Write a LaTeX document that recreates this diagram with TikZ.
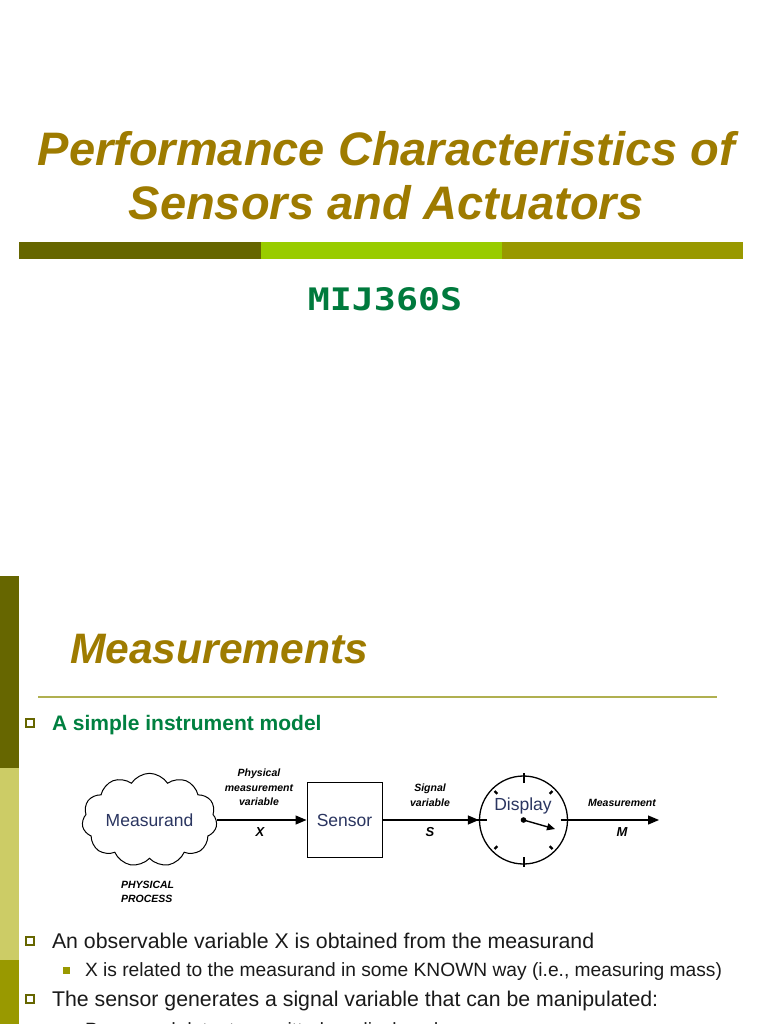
\documentclass[tikz,border=0pt]{standalone}
\usepackage{fontspec}
\setmainfont{Liberation Sans}
\newfontfamily\monob{DejaVu Sans Mono}
\usetikzlibrary{shapes.symbols,arrows.meta,calc}
\definecolor{ttl}{HTML}{9E7B00}
\definecolor{olA}{HTML}{666600}
\definecolor{olB}{HTML}{99CC00}
\definecolor{olC}{HTML}{999900}
\definecolor{olD}{HTML}{CCCC66}
\definecolor{rule}{HTML}{B0B050}
\definecolor{grn}{HTML}{007A3D}
\definecolor{grn2}{HTML}{008040}
\definecolor{body}{HTML}{1A1A1A}
\definecolor{navy}{HTML}{2A3560}
\tikzset{
  txt/.style={inner sep=0pt, outer sep=0pt},
  hbul/.style={draw=olA, line width=1.3pt, minimum size=8pt, inner sep=0pt},
  fbul/.style={fill=olC, minimum size=7pt, inner sep=0pt},
  conn/.style={line width=1.3pt, -{Triangle[length=11pt,width=9pt]}},
  smalllab/.style={txt, align=center, text=black, font=\bfseries\itshape\fontsize{10.5}{14.5}\selectfont},
  varlab/.style={txt, text=black, font=\bfseries\itshape\fontsize{13}{13}\selectfont},
  biglab/.style={text=navy, font=\fontsize{17.5}{17.5}\selectfont}
}
\begin{document}
\begin{tikzpicture}[x=1pt,y=-1pt]
\useasboundingbox (0,0) rectangle (768,1024);
\fill[white] (0,0) rectangle (768,1024);
\begin{scope}
\clip (0,0) rectangle (768,1024);
% ---------- top slide ----------
\node[txt, anchor=base, text=ttl, font=\bfseries\itshape\fontsize{47}{54}\selectfont] (t1) at (386.5,166) {Performance Characteristics of};
\node[txt, anchor=base, text=ttl, font=\bfseries\itshape\fontsize{47}{54}\selectfont] (t2) at (386,220) {Sensors and Actuators};
\fill[olA] (19,242) rectangle (261,259);
\fill[olB] (261,242) rectangle (502,259);
\fill[olC] (502,242) rectangle (743,259);
\node[txt, anchor=base, text=grn] (code) at (385,310) {\scalebox{1.18}[1]{\monob\bfseries\fontsize{31}{31}\selectfont MIJ360S}};
% ---------- bottom slide ----------
\fill[olA] (0,576) rectangle (19,768);
\fill[olD] (0,768) rectangle (19,960);
\fill[olC] (0,960) rectangle (19,1024);
\node[txt, anchor=base west, text=ttl, font=\bfseries\itshape\fontsize{42.6}{42.6}\selectfont] (mt) at (70,663) {Measurements};
\draw[rule, line width=1.5pt] (38,697) -- (717,697);
\node[hbul] (b1) at (30,723) {};
\node[txt, anchor=base west, text=grn2, font=\bfseries\fontsize{21}{21}\selectfont] (s1) at (52,730) {A simple instrument model};
% diagram
\node[cloud, draw, line width=1pt, cloud puffs=11, cloud puff arc=115, aspect=1.6, minimum width=135pt, minimum height=84pt, inner sep=0pt, biglab] (meas) at (149.5,820) {Measurand};
\node[draw, line width=1pt, minimum width=75pt, minimum height=75pt, inner sep=0pt, biglab] (sensor) at (344.5,820) {Sensor};
\node[circle, draw, line width=1.3pt, minimum size=88pt, inner sep=0pt] (disp) at (523.5,820) {};
\node[txt, biglab] (disptxt) at (523,806) {Display};
\coordinate (mend) at (659,820);
\draw[conn] (meas.east) -- (sensor.west |- meas.east);
\draw[conn] (sensor.east) -- (disp.west);
\draw[conn] (disp.east) -- (mend);
\foreach \a in {0,90,180,270}
  \draw[line width=2pt] ($(disp.center)+(\a:37)$) -- ($(disp.center)+(\a:47)$);
\foreach \a in {45,135,225,315}
  \draw[line width=2.2pt] ($(disp.center)+(\a:37)$) -- ($(disp.center)+(\a:41)$);
\fill (disp.center) circle (2.8);
\coordinate (handtip) at (555,829);
\draw[line width=1.4pt, -{Triangle[length=8pt,width=7pt]}] (disp.center) -- (handtip);
\node[smalllab] (l1) at (259,787.5) {Physical\\measurement\\variable};
\node[varlab] (lx) at (260,832) {X};
\node[smalllab] (l2) at (430,795) {Signal\\variable};
\node[varlab] (ls) at (430,832) {S};
\node[smalllab] (l3) at (622,803) {Measurement};
\node[varlab] (lm) at (622,832) {M};
\node[smalllab, align=left, anchor=west] (pp) at (121,892) {PHYSICAL\\PROCESS};
% bullets
\node[hbul] (b2) at (30,941) {};
\node[txt, anchor=base west, text=body, font=\fontsize{21.3}{21.3}\selectfont] (s2) at (52,948) {An observable variable X is obtained from the measurand};
\node[fbul] (b3) at (66,970) {};
\node[txt, anchor=base west, text=body, font=\fontsize{19.2}{19.2}\selectfont] (s3) at (85,976) {X is related to the measurand in some KNOWN way (i.e., measuring mass)};
\node[hbul] (b4) at (30,999) {};
\node[txt, anchor=base west, text=body, font=\fontsize{21.3}{21.3}\selectfont] (s4) at (52,1006) {The sensor generates a signal variable that can be manipulated:};
\node[txt, anchor=base west, text=body, font=\fontsize{19.2}{19.2}\selectfont] (s5) at (85,1036) {Processed data, transmitted, or displayed};
\end{scope}
\end{tikzpicture}
\end{document}
